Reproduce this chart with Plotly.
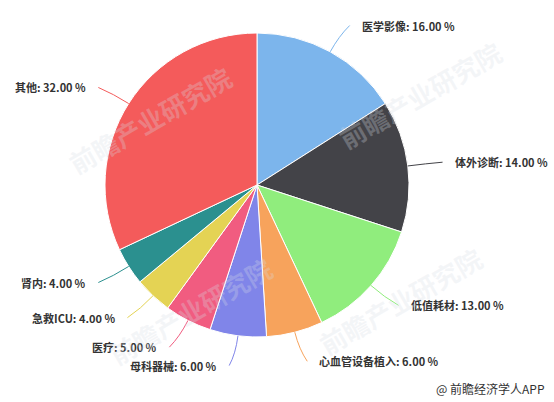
import math
import numpy as np
import plotly.graph_objects as go

labels = ["医学影像", "体外诊断", "低值耗材", "心血管设备植入", "母科器械", "医疗", "急救ICU", "肾内", "其他"]
values = [16.00, 14.00, 13.00, 6.00, 6.00, 5.00, 4.00, 4.00, 32.00]
colors = ["#7cb5ec", "#434348", "#90ed7d", "#f7a35c", "#8085e9", "#f15c80", "#e4d354", "#2b908f", "#f45b5b"]

W, H = 554, 402
cx, cy, r = 257, 185, 152
R = r + 30

fig = go.Figure(go.Pie(
    labels=labels, values=values, sort=False, direction="clockwise", rotation=0,
    marker=dict(colors=colors, line=dict(color="#ffffff", width=1)),
    textinfo="none", hoverinfo="label+percent", showlegend=False,
    domain=dict(x=[(cx - r) / W, (cx + r) / W], y=[(H - cy - r) / H, (H - cy + r) / H]),
))

def px2paper(x, y):
    return x / W, 1 - y / H

shapes = []
annotations = []
total = sum(values)
cum = 0
for lab, v, col in zip(labels, values, colors):
    mid = (cum + v / 2) / total
    cum += v
    a = 2 * math.pi * mid
    s, c = math.sin(a), math.cos(a)
    ex, ey = cx + r * s, cy - r * c
    dy = -R * c
    ly = cy + dy
    side = 1 if s >= 0 else -1
    lx = cx + side * math.sqrt(max(R * R - dy * dy, 0))
    endx = lx + side * 5
    qx, qy = cx + (r + 18) * s, cy - (r + 18) * c
    p0 = px2paper(ex, ey); p1 = px2paper(qx, qy); p2 = px2paper(endx, ly)
    shapes.append(dict(type="path", xref="paper", yref="paper",
                       path=f"M {p0[0]} {p0[1]} Q {p1[0]} {p1[1]} {p2[0]} {p2[1]}",
                       line=dict(color=col, width=1)))
    tx, ty = px2paper(lx + side * 15, ly)
    annotations.append(dict(x=tx, y=ty, xref="paper", yref="paper", showarrow=False,
                            text=f"<b>{lab}: {v:.2f} %</b>",
                            xanchor="left" if side > 0 else "right", yanchor="middle",
                            font=dict(size=11, color="#333333", family="Noto Sans CJK SC")))

# faint watermarks
for wx, wy in [(150, 120), (420, 95), (190, 310), (400, 300)]:
    x, y = px2paper(wx, wy)
    annotations.append(dict(x=x, y=y, xref="paper", yref="paper", showarrow=False,
                            xanchor="center", yanchor="middle",
                            text="<b>前瞻产业研究院</b>", textangle=-30,
                            font=dict(size=26, color="rgba(215,220,230,0.28)", family="Noto Sans CJK SC")))

x, y = px2paper(547, 388)
annotations.append(dict(x=x, y=y, xref="paper", yref="paper", showarrow=False,
                        text="@ 前瞻经济学人APP", xanchor="right", yanchor="middle",
                        font=dict(size=12, color="#333333", family="Noto Sans CJK SC")))

fig.update_layout(width=W, height=H, margin=dict(l=0, r=0, t=0, b=0),
                  paper_bgcolor="#ffffff", plot_bgcolor="#ffffff",
                  shapes=shapes, annotations=annotations)
fig.write_html("out.html")
